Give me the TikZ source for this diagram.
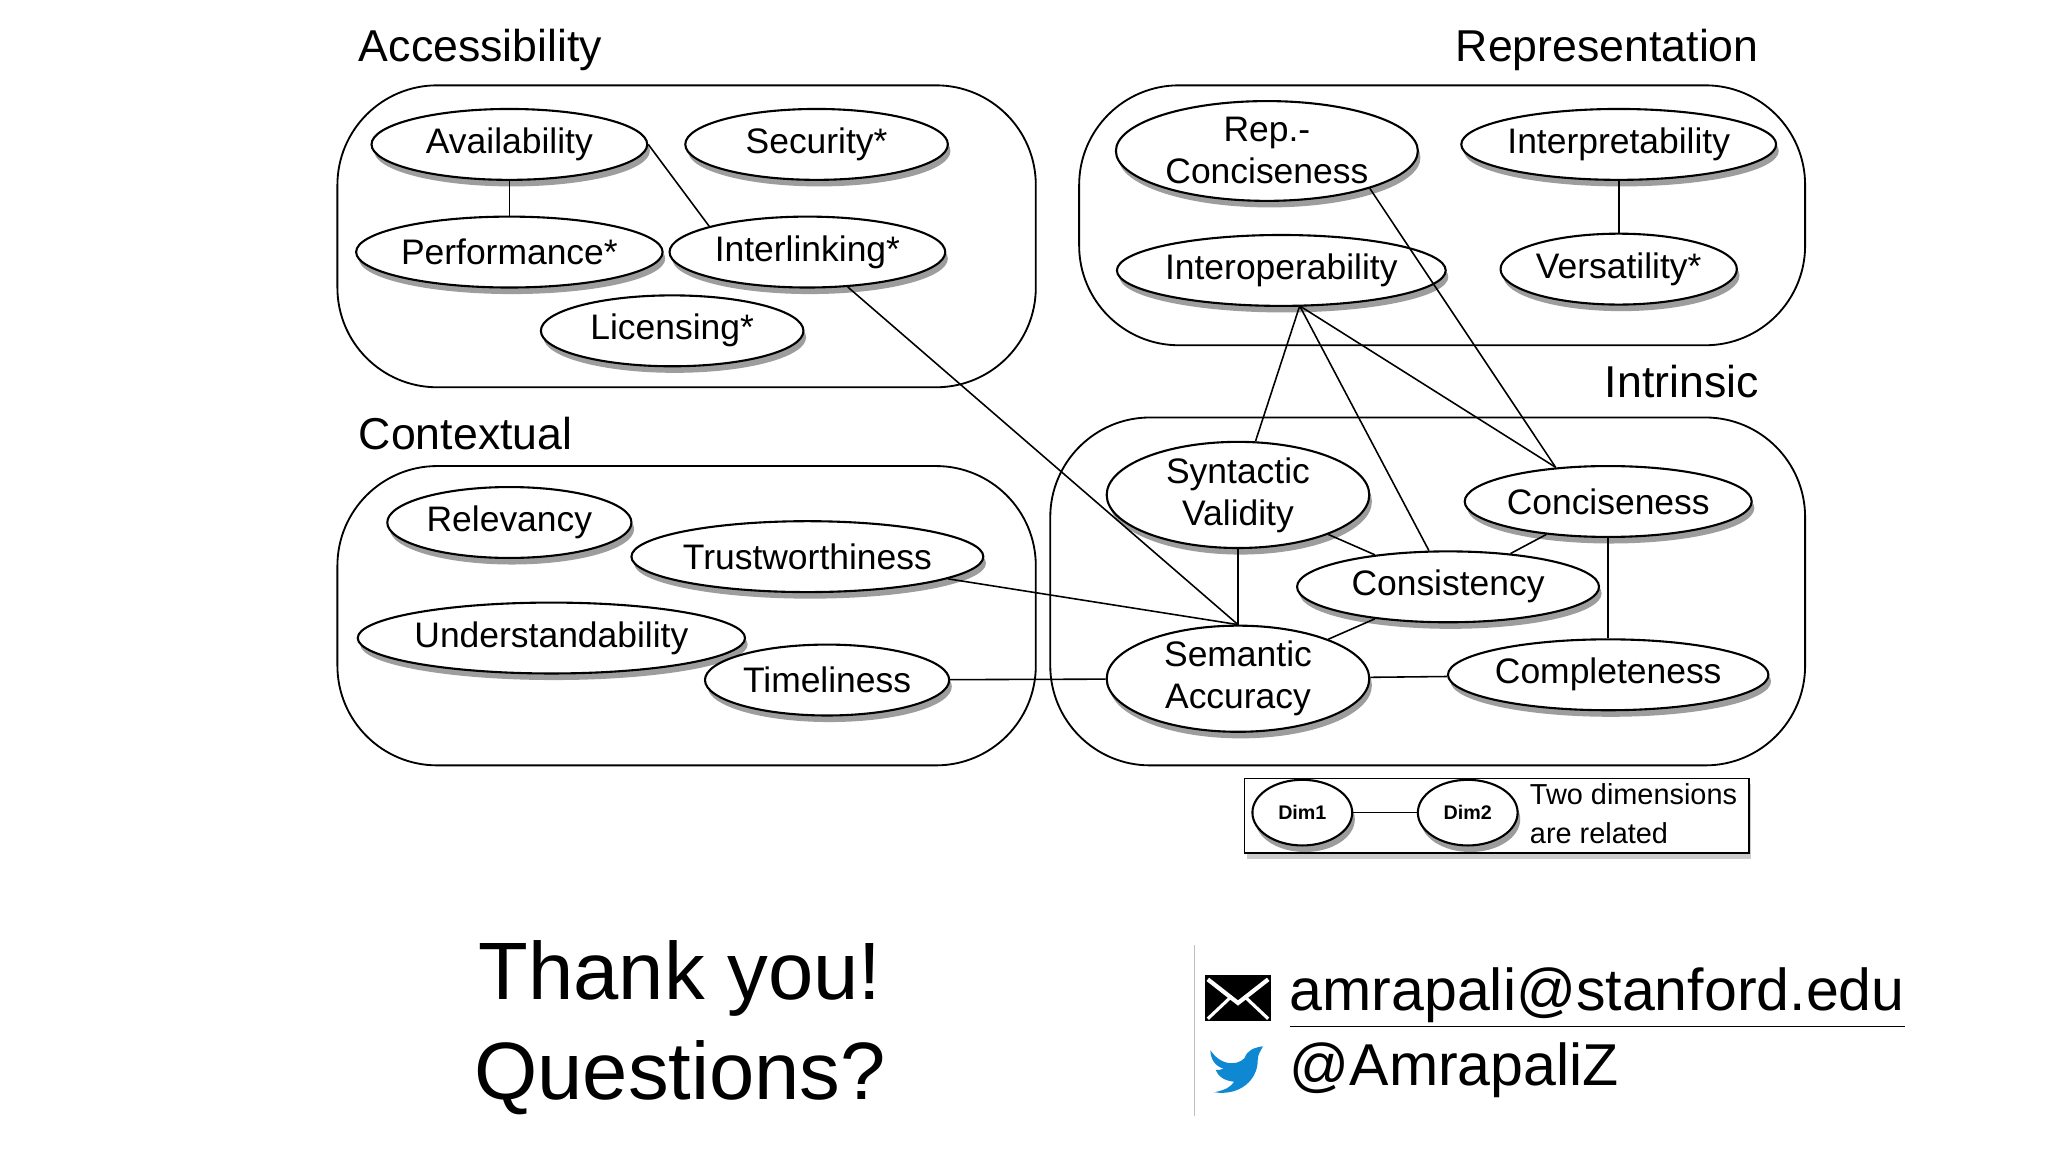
\documentclass[tikz,border=0pt]{standalone}
\usepackage{fontspec}
\setmainfont{Liberation Sans}
\usetikzlibrary{shapes.geometric,shadows}
\begin{document}
\begin{tikzpicture}[x=0.5pt,y=-0.5pt,
  el/.style n args={2}{ellipse,draw,fill=white,line width=0.8pt,inner sep=0pt,
     minimum width=#1*1pt,minimum height=#2*1pt,align=center,
     font=\fontsize{13.5}{15}\selectfont,
     drop shadow={shadow xshift=1pt,shadow yshift=-2.5pt,opacity=0.55,fill=black!70}},
  grp/.style={draw,line width=0.7pt,rounded corners=38pt},
  hdr/.style={font=\fontsize{17}{18}\selectfont,inner sep=0pt},
  lnk/.style={line width=0.6pt}]
\useasboundingbox (0,0) rectangle (1560,877.5);
% groups
\draw[grp] (257,65) rectangle (789,295);
\draw[grp] (822,65) rectangle (1375,263);
\draw[grp] (257,355) rectangle (789,583);
\draw[grp] (800,318) rectangle (1375,583);
\node[hdr,anchor=west] (hA) at (273,38) {Accessibility};
\node[hdr,anchor=east] (hR) at (1340,38) {Representation};
\node[hdr,anchor=east] (hI) at (1340,291) {Intrinsic};
\node[hdr,anchor=west] (hC) at (273,330) {Contextual};
% nodes
\node[el={105}{27}] (avail) at (388,110) {Availability};
\node[el={100}{27}] (secur) at (622,110) {Security*};
\node[el={115}{27}] (perf) at (388,192) {Performance*};
\node[el={105}{27}] (inter) at (615,192) {Interlinking*};
\node[el={100}{27}] (lic) at (512,252) {Licensing*};
\node[el={115}{38},font=\fontsize{13.5}{16}\selectfont] (repc) at (965,115) {Rep.-\\Conciseness};
\node[el={117}{27}] (interp) at (1233,110) {Interpretability};
\node[el={122}{27}] (interop) at (976,206) {Interoperability};
\node[el={90}{27}] (vers) at (1233,205) {Versatility*};
\node[el={100}{40},font=\fontsize{13.5}{16}\selectfont] (synt) at (943,377) {Syntactic\\Validity};
\node[el={108}{27}] (conc) at (1225,382) {Conciseness};
\node[el={115}{27}] (cons) at (1103,447) {Consistency};
\node[el={100}{40},font=\fontsize{13.5}{16}\selectfont] (sem) at (943,517) {Semantic\\Accuracy};
\node[el={122}{27}] (compl) at (1225,514) {Completeness};
\node[el={93}{27}] (relev) at (388,398) {Relevancy};
\node[el={133}{27}] (trust) at (615,424) {Trustworthiness};
\node[el={136}{27}] (under) at (420,486) {Understandability};
\node[el={93}{27}] (time) at (630,518) {Timeliness};
% legend
\draw[line width=0.7pt,drop shadow={shadow xshift=1pt,shadow yshift=-2pt,opacity=0.4},fill=white] (948,593) rectangle (1332,650);
\node[el={38}{25},font=\fontsize{7.5}{8}\selectfont\bfseries] (d1) at (992,619) {Dim1};
\node[el={38}{25},font=\fontsize{7.5}{8}\selectfont\bfseries] (d2) at (1118,619) {Dim2};
\node[anchor=west,align=left,font=\fontsize{11}{15}\selectfont,inner sep=0pt] (dl) at (1165,620) {Two dimensions\\are related};
% links
\coordinate (io) at (990,233);
\coordinate (ct) at (1185,356);
\draw[lnk] (avail) -- (perf);
\draw[lnk] (avail.east) -- (inter.north west);
\draw[lnk] (inter) -- (sem.north);
\draw[lnk] (trust) -- (sem.north);
\draw[lnk] (time) -- (sem);
\draw[lnk] (interp) -- (vers);
\draw[lnk] (repc.-20) -- (ct);
\draw[lnk] (io) -- (synt);
\draw[lnk] (io) -- (cons);
\draw[lnk] (io) -- (ct);
\draw[lnk] (synt) -- (cons);
\draw[lnk] (synt) -- (sem);
\draw[lnk] (conc) -- (cons);
\draw[lnk] (conc) -- (compl);
\draw[lnk] (cons) -- (sem);
\draw[lnk] (sem) -- (compl);
\draw[lnk] (d1) -- (d2);
% bottom
\node[align=center,font=\fontsize{31}{38}\selectfont] (ty) at (518,783) {Thank you!\\Questions?};
\draw[black!25,line width=0.6pt] (910,720) coordinate (v1) -- (910,850) coordinate (v2);
\node[anchor=west,font=\fontsize{22.5}{26}\selectfont,inner sep=0pt] (mail) at (982,760) {\underline{amrapali@stanford.edu}};
\node[anchor=west,font=\fontsize{22.5}{26}\selectfont,inner sep=0pt] (tw) at (982,815) {@AmrapaliZ};
% envelope icon
\fill (918,743) rectangle (968,778);
\draw[white,line width=1.6pt] (920,746) -- (943,764) -- (966,746);
\draw[white,line width=1.2pt] (920,776) -- (937,760) (966,776) -- (949,760);
% bird icon
\fill[cyan!70!blue] (922,800) .. controls (930,812) and (942,812) .. (948,806)
  .. controls (950,800) and (955,798) .. (962,797)
  .. controls (960,801) and (958,803) .. (958,808)
  .. controls (958,822) and (945,835) .. (925,832)
  .. controls (935,830) and (938,827) .. (940,824)
  .. controls (932,823) and (928,820) .. (926,815)
  .. controls (928,815) and (930,815) .. (932,814)
  .. controls (925,812) and (922,806) .. (922,800) -- cycle;
\end{tikzpicture}
\end{document}
